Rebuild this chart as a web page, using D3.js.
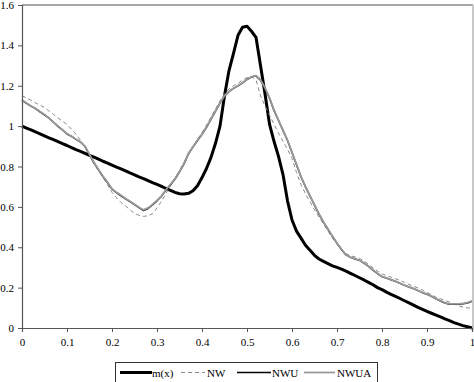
<!DOCTYPE html>
<html><head><meta charset="utf-8">
<script src="https://cdn.jsdelivr.net/npm/d3@7"></script>
<style>body{margin:0;background:#fff}svg{display:block}</style>
</head><body><svg id="c" width="474" height="382"></svg>
<script>
const xs = d3.range(0, 101).map(i => i / 100);
const xTicks = [0,0.1,0.2,0.3,0.4,0.5,0.6,0.7,0.8,0.9,1];
const xTickLabels = ["0","0.1","0.2","0.3","0.4","0.5","0.6","0.7","0.8","0.9","1"];
const yTicks = [0,0.2,0.4,0.6,0.8,1,1.2,1.4,1.6];
const yTickLabels = ["0","0.2","0.4","0.6","0.8","1","1.2","1.4","1.6"];
const seriesNames = ["m(x)","NW","NWU","NWUA"];

const mx = [1.000,0.990,0.981,0.971,0.962,0.952,0.942,0.933,0.923,0.913,
0.904,0.894,0.884,0.875,0.865,0.855,0.846,0.836,0.826,0.817,
0.807,0.797,0.788,0.778,0.768,0.759,0.749,0.740,0.730,0.720,
0.711,0.701,0.691,0.682,0.672,0.665,0.664,0.667,0.680,0.705,
0.745,0.790,0.845,0.915,1.000,1.150,1.275,1.360,1.450,1.490,
1.495,1.470,1.440,1.300,1.160,1.010,0.925,0.850,0.760,0.630,
0.535,0.480,0.445,0.410,0.385,0.360,0.342,0.330,0.319,0.308,
0.300,0.292,0.282,0.271,0.260,0.249,0.238,0.226,0.214,0.200,
0.190,0.178,0.167,0.157,0.146,0.135,0.124,0.113,0.102,0.092,
0.082,0.073,0.064,0.055,0.045,0.036,0.027,0.019,0.012,0.006,0.000];

const nw = [1.150,1.140,1.128,1.115,1.104,1.092,1.075,1.058,1.040,1.025,
1.008,0.985,0.960,0.930,0.895,0.855,0.812,0.780,0.745,0.710,
0.672,0.645,0.622,0.605,0.585,0.568,0.558,0.553,0.556,0.566,
0.595,0.628,0.666,0.705,0.740,0.780,0.820,0.862,0.900,0.935,
0.968,1.005,1.045,1.085,1.125,1.160,1.185,1.200,1.212,1.228,
1.240,1.245,1.230,1.150,1.100,1.055,1.010,0.965,0.925,0.885,
0.840,0.770,0.710,0.665,0.625,0.585,0.550,0.515,0.480,0.445,
0.415,0.388,0.368,0.358,0.352,0.345,0.332,0.315,0.298,0.282,
0.268,0.260,0.252,0.244,0.236,0.226,0.216,0.207,0.198,0.188,
0.176,0.165,0.152,0.145,0.137,0.128,0.118,0.110,0.104,0.100,0.097];

const nwu = [1.128,1.113,1.099,1.087,1.071,1.056,1.039,1.019,0.999,0.981,
0.961,0.949,0.934,0.921,0.899,0.858,0.818,0.783,0.750,0.720,
0.688,0.670,0.655,0.640,0.626,0.611,0.596,0.582,0.592,0.610,
0.630,0.653,0.683,0.710,0.738,0.773,0.813,0.863,0.897,0.929,
0.959,0.994,1.034,1.074,1.114,1.149,1.171,1.187,1.199,1.214,
1.231,1.244,1.249,1.228,1.188,1.138,1.078,1.028,0.979,0.929,
0.869,0.809,0.749,0.699,0.654,0.609,0.564,0.524,0.489,0.454,
0.419,0.389,0.362,0.350,0.342,0.335,0.321,0.305,0.287,0.269,
0.254,0.247,0.239,0.231,0.221,0.211,0.203,0.195,0.185,0.175,
0.167,0.157,0.144,0.134,0.124,0.118,0.118,0.118,0.120,0.124,0.132];

const nwua = [1.130,1.115,1.100,1.088,1.072,1.058,1.040,1.020,1.000,0.982,
0.962,0.950,0.935,0.922,0.900,0.860,0.820,0.785,0.752,0.722,
0.690,0.672,0.657,0.642,0.628,0.613,0.598,0.585,0.595,0.612,
0.632,0.655,0.685,0.712,0.740,0.775,0.815,0.865,0.898,0.930,
0.960,0.995,1.035,1.075,1.115,1.150,1.172,1.188,1.200,1.215,
1.232,1.245,1.250,1.230,1.190,1.140,1.080,1.030,0.980,0.930,
0.870,0.810,0.750,0.700,0.655,0.610,0.565,0.525,0.490,0.455,
0.420,0.390,0.363,0.351,0.343,0.336,0.322,0.306,0.288,0.270,
0.255,0.248,0.240,0.232,0.222,0.212,0.204,0.196,0.186,0.176,
0.168,0.158,0.145,0.135,0.125,0.120,0.120,0.120,0.122,0.126,0.135];

const FONT = '"Liberation Serif", "Times New Roman", serif';
const svg = d3.select("#c");
const L = 22, R = 472, T = 5, B = 328;
const x = d3.scaleLinear().domain([0,1]).range([L,R]);
const y = d3.scaleLinear().domain([0,1.6]).range([B,T]);

svg.append("line").attr("x1",L).attr("x2",R+1).attr("y1",T).attr("y2",T).attr("stroke","#a6a6a6").attr("stroke-width",2);
svg.append("line").attr("x1",R+1).attr("x2",R+1).attr("y1",T).attr("y2",B+2).attr("stroke","#c8c8c8").attr("stroke-width",2);

const line = d3.line().x((d,i)=>x(xs[i])).y(d=>y(d));
const styles = [
  {data:mx, stroke:"#000", w:3, dash:null},
  {data:nw, stroke:"#8a8a8a", w:1, dash:"4,3"},
  {data:nwu, stroke:"#000", w:1.5, dash:null},
  {data:nwua, stroke:"#9a9a9a", w:1.8, dash:null}
];
styles.forEach(s=>{
  svg.append("path").datum(s.data).attr("d",line).attr("fill","none")
    .attr("stroke",s.stroke).attr("stroke-width",s.w).attr("stroke-linejoin","round")
    .attr("stroke-dasharray",s.dash);
});

const xAxis = d3.axisBottom(x).tickValues(xTicks).tickFormat((d,i)=>xTickLabels[i]).tickSize(4).tickPadding(6);
const gx = svg.append("g").attr("transform",`translate(0,${B})`).call(xAxis);
const yAxis = d3.axisLeft(y).tickValues(yTicks).tickFormat((d,i)=>yTickLabels[i]).tickSize(4).tickPadding(4);
const gy = svg.append("g").attr("transform",`translate(${L},0)`).call(yAxis);
[gx,gy].forEach(g=>{
  g.attr("font-family",null);
  g.select(".domain").attr("stroke","#555").attr("stroke-width",1.2);
  g.selectAll(".tick line").attr("stroke","#555");
  g.selectAll("text").style("font-family",FONT).style("font-size","11px").attr("fill","#000");
});

const lg = svg.append("g");
lg.append("rect").attr("x",115.5).attr("y",362.5).attr("width",262).attr("height",30).attr("fill","#fff").attr("stroke","#333").attr("stroke-width",1);
const items = [
  {x1:120,x2:152,tx:152},
  {x1:181,x2:205,tx:207},
  {x1:237,x2:271,tx:272},
  {x1:304,x2:335,tx:337}
];
items.forEach((it,i)=>{
  const s = styles[i];
  lg.append("line").attr("x1",it.x1).attr("x2",it.x2).attr("y1",372.5).attr("y2",372.5)
    .attr("stroke",s.stroke).attr("stroke-width",s.w).attr("stroke-dasharray",s.dash);
  lg.append("text").attr("x",it.tx).attr("y",376.5).style("font-family",FONT).style("font-size","11px").attr("fill","#000").text(seriesNames[i]);
});
</script></body></html>
